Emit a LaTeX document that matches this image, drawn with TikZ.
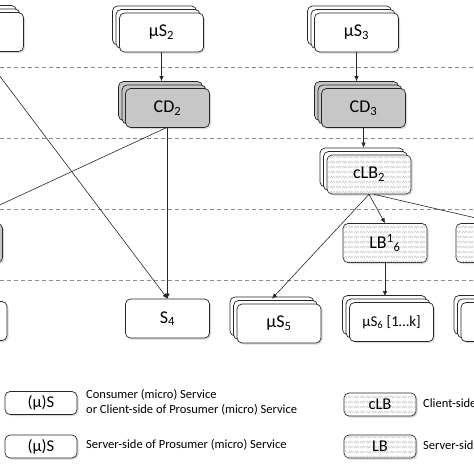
\documentclass[tikz,border=0pt]{standalone}
\usepackage{fontspec}
\setmainfont{Carlito}
\usetikzlibrary{arrows.meta,shadows,patterns.meta,calc}
\tikzdeclarepattern{
    name=wavy,
    type=uncolored,
    bounding box={(0,0) and (6pt,5pt)},
    tile size={(6pt,5pt)},
    code={\draw[line width=0.35pt] (0pt,1pt) -- (1.5pt,3.6pt) -- (3pt,1pt) -- (4.5pt,3.6pt) -- (6pt,1pt);}
}
\tikzset{
    service-box/.style = {draw=black!85, fill=white, line width=0.7pt, rectangle, rounded corners=5pt, minimum width=84pt, minimum height=39pt, inner sep=2pt, font=\fontsize{18}{20}\selectfont, drop shadow={opacity=0.3, shadow xshift=1.5pt, shadow yshift=-1.5pt}},
    cd-box/.style = {service-box, fill=black!22},
    lb-box/.style = {service-box, postaction={pattern=wavy, pattern color=black!28}},
    stacked/.style = {copy shadow={shadow xshift=-7pt, shadow yshift=7pt}, copy shadow={shadow xshift=-3.5pt, shadow yshift=3.5pt}},
    legend-box/.style = {minimum width=72pt, minimum height=23pt, font=\fontsize{16.5}{18}\selectfont},
    legend-text/.style = {anchor=west, align=left, inner sep=0pt, font=\fontsize{12.5}{15}\selectfont},
    flow/.style = {-{Latex[length=5pt,width=4.5pt]}, line width=0.6pt, draw=black!85},
    tier-line/.style = {dash pattern=on 4pt off 3pt, draw=black!45, line width=0.6pt},
}
\begin{document}
\begin{tikzpicture}[x=1pt, y=-1pt]
\useasboundingbox (0,0) rectangle (474,474);
\clip (0,0) rectangle (474,474);
\foreach \y in {67,138,209.5,280.5}
    \draw[tier-line] (0,\y) -- (474,\y);

\node[service-box, stacked] (muS1) at (-18.5,32) {};
\node[service-box, stacked] (muS2) at (161.5,32.5) {μS\textsubscript{2}};
\node[service-box, stacked] (muS3) at (356.5,32.5) {μS\textsubscript{3}};
\node[cd-box, stacked] (CD2) at (167.5,108) {CD\textsubscript{2}};
\node[cd-box, stacked] (CD3) at (363.5,108) {CD\textsubscript{3}};
\node[lb-box, stacked] (cLB2) at (369,174.5) {cLB\textsubscript{2}};
\node[cd-box] (CD4) at (-39.5,243) {};
\node[lb-box] (LB16) at (385,243) {LB\textsuperscript{1}\textsubscript{6}};
\node[lb-box] (LB17) at (498,243) {};
\node[service-box] (S0) at (-35,321) {};
\node[service-box] (S4) at (167.5,318.5) {S\textsubscript{4}};
\node[service-box, stacked] (muS5) at (279,323.5) {μS\textsubscript{5}};
\node[service-box, stacked, font=\fontsize{15}{17}\selectfont] (muS6) at (391.5,322) {μS\textsubscript{6} [1…k]};
\node[service-box, stacked] (muS7) at (503,322) {};

\draw[flow] (muS2.south) -- ($(muS2.south |- CD2.north)+(0,-7)$);
\draw[flow] (muS3.south) -- ($(muS3.south |- CD3.north)+(0,-7)$);
\draw[flow] (CD3.south) -- ($(CD3.south |- cLB2.north)+(0,-7)$);
\draw[flow] (CD2.south) -- (S4.north);
\draw[flow] (muS1.south) -- (S4.north);
\draw[flow] ([xshift=-1.5pt]CD2.south) -- (CD4.north);
\draw[flow] (cLB2.south) -- (LB16.north);
\draw[flow] (cLB2.south) -- ([xshift=-7pt,yshift=5pt]muS5.north);
\draw[flow] ([xshift=5pt]cLB2.south) -- (LB17.north);
\draw[flow] (LB16.south) -- ($(LB16.south |- muS6.north)+(0,-6)$);

\node[service-box, legend-box] (keyS) at (41,403) {(μ)S};
\node[legend-text] (keyS-text) at (86,402.5) {Consumer (micro) Service\\or Client-side of Prosumer (micro) Service};
\node[service-box, legend-box] (keyP) at (41,446.5) {(μ)S};
\node[legend-text] (keyP-text) at (86,445) {Server-side of Prosumer (micro) Service};
\node[lb-box, legend-box] (keyC) at (380,404.5) {cLB};
\node[legend-text] (keyC-text) at (423,403) {Client-side Load Balancer};
\node[lb-box, legend-box] (keyL) at (380,446.5) {LB};
\node[legend-text] (keyL-text) at (423,445) {Server-side Load Balancer};
\end{tikzpicture}
\end{document}
